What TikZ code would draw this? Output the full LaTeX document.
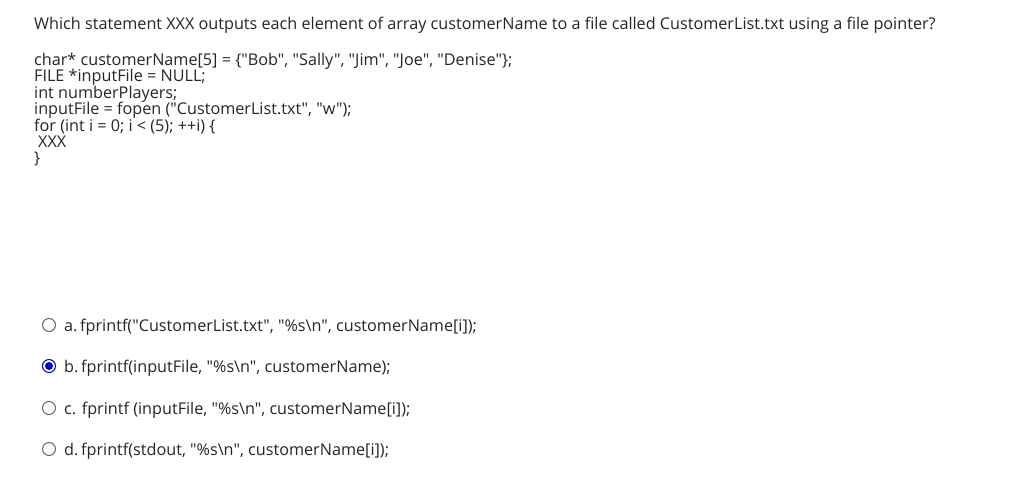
\documentclass[tikz,border=0pt]{standalone}
\usepackage{fontspec}
\setmainfont{Open Sans}[Ligatures=TeXOff]
\begin{document}
\begin{tikzpicture}[x=1pt,y=-1pt,
  t/.style={anchor=base west,inner sep=0pt,text=black!85,font=\fontsize{16.2}{18}\selectfont},
  radio/.style={circle,draw=black!60,line width=1pt,minimum size=13pt,inner sep=0pt}]
\useasboundingbox[fill=white] (0,0) rectangle (1014,479);
\node[t] (q) at (34,29) {Which statement XXX outputs each element of array customerName to a file called CustomerList.txt using a file pointer?};
\node[t] (c1) at (34,65) {char* customerName[5] = \{"Bob", "Sally", "Jim", "Joe", "Denise"\};};
\node[t] (c2) at (34,81) {FILE *inputFile = NULL;};
\node[t] (c3) at (34,98) {int numberPlayers;};
\node[t] (c4) at (34,114) {inputFile = fopen ("CustomerList.txt", "w");};
\node[t] (c5) at (34,131) {for (int i = 0; i < (5); ++i) \{};
\node[t] (c6) at (38,147) {XXX};
\node[t] (c7) at (34,163) {\}};
\node[radio] (ra) at (49,325) {};
\node[radio,draw=blue!80!black] (rb) at (49,366) {};
\fill[blue!80!black] (rb.center) circle (4pt);
\node[radio] (rc) at (49,408) {};
\node[radio] (rd) at (49,449) {};
\node[t] (a) at (64,331) {a.\,fprintf("CustomerList.txt", "\%s\textbackslash n", customerName[i]);};
\node[t] (b) at (64,372) {b.\,fprintf(inputFile, "\%s\textbackslash n", customerName);};
\node[t] (c) at (64,414) {c. fprintf (inputFile, "\%s\textbackslash n", customerName[i]);};
\node[t] (d) at (64,455) {d.\,fprintf(stdout, "\%s\textbackslash n", customerName[i]);};
\end{tikzpicture}
\end{document}
